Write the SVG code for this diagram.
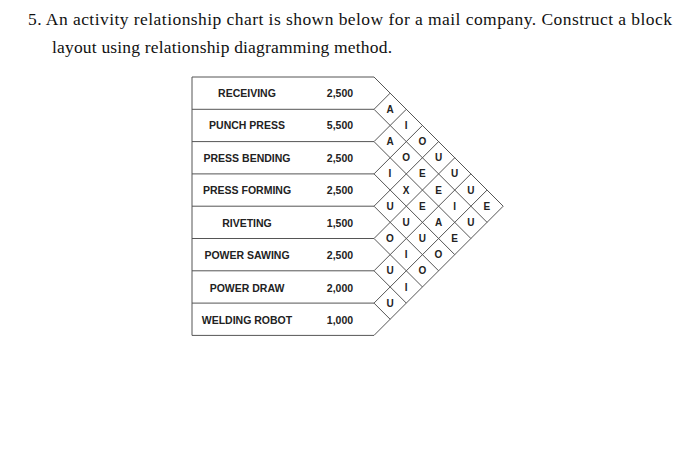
<svg xmlns="http://www.w3.org/2000/svg" width="700" height="458" viewBox="0 0 700 458">
<style>
.h{font-family:"Liberation Serif",serif;font-size:17.5px;fill:#111}
.l{font-family:"Liberation Sans",Arial,sans-serif;font-size:10.5px;font-weight:bold;fill:#222;text-anchor:middle;dominant-baseline:central}
.r{font-family:"Liberation Sans",Arial,sans-serif;font-size:10px;font-weight:bold;fill:#222;text-anchor:middle;dominant-baseline:central}
.g{stroke:#555;stroke-width:1;fill:none}
</style>
<rect width="700" height="458" fill="#fff"/>
<text class="h" x="28" y="25" textLength="644" lengthAdjust="spacing">5. An activity relationship chart is shown below for a mail company. Construct a block</text>
<text class="h" x="52" y="53" textLength="340" lengthAdjust="spacing">layout using relationship diagramming method.</text>
<g id="connectors" class="g">
<path d="M192,77V335.4M192,77H374M192,109.3H374M192,141.6H374M192,173.9H374M192,206.2H374M192,238.5H374M192,270.8H374M192,303.1H374M192,335.4H374"/>
<path d="M374,77L503.2,206.2M374,109.3L487.05,222.35M374,141.6L470.9,238.5M374,173.9L454.75,254.65M374,206.2L438.6,270.8M374,238.5L422.45,286.95M374,270.8L406.3,303.1M374,303.1L390.15,319.25"/>
<path d="M374,109.3L390.15,93.15M374,141.6L406.3,109.3M374,173.9L422.45,125.45M374,206.2L438.6,141.6M374,238.5L454.75,157.75M374,270.8L470.9,173.9M374,303.1L487.05,190.05M374,335.4L503.2,206.2"/>
</g>
<g id="rows">
<g id="n0"><text class="l" x="247" y="93">RECEIVING</text><text class="l" x="340" y="93">2,500</text></g>
<g id="n1"><text class="l" x="247" y="125">PUNCH PRESS</text><text class="l" x="340" y="125">5,500</text></g>
<g id="n2"><text class="l" x="247" y="157.5">PRESS BENDING</text><text class="l" x="340" y="157.5">2,500</text></g>
<g id="n3"><text class="l" x="247" y="190">PRESS FORMING</text><text class="l" x="340" y="190">2,500</text></g>
<g id="n4"><text class="l" x="247" y="222.5">RIVETING</text><text class="l" x="340" y="222.5">1,500</text></g>
<g id="n5"><text class="l" x="247" y="255">POWER SAWING</text><text class="l" x="340" y="255">2,500</text></g>
<g id="n6"><text class="l" x="247" y="287.5">POWER DRAW</text><text class="l" x="340" y="287.5">2,000</text></g>
<g id="n7"><text class="l" x="247" y="320">WELDING ROBOT</text><text class="l" x="340" y="320">1,000</text></g>
</g>
<g id="ratings">
<text class="r" x="390" y="109.3">A</text>
<text class="r" x="406.2" y="125.5">I</text>
<text class="r" x="422.3" y="141.6">O</text>
<text class="r" x="438.5" y="157.8">U</text>
<text class="r" x="454.6" y="173.9">U</text>
<text class="r" x="470.8" y="190.1">U</text>
<text class="r" x="486.9" y="206.2">E</text>
<text class="r" x="390" y="141.6">A</text>
<text class="r" x="406.2" y="157.8">O</text>
<text class="r" x="422.3" y="173.9">E</text>
<text class="r" x="438.5" y="190.1">E</text>
<text class="r" x="454.6" y="206.2">I</text>
<text class="r" x="470.8" y="222.4">U</text>
<text class="r" x="390" y="173.9">I</text>
<text class="r" x="406.2" y="190.1">X</text>
<text class="r" x="422.3" y="206.2">E</text>
<text class="r" x="438.5" y="222.4">A</text>
<text class="r" x="454.6" y="238.5">E</text>
<text class="r" x="390" y="206.2">U</text>
<text class="r" x="406.2" y="222.4">U</text>
<text class="r" x="422.3" y="238.5">U</text>
<text class="r" x="438.5" y="254.7">O</text>
<text class="r" x="390" y="238.5">O</text>
<text class="r" x="406.2" y="254.7">I</text>
<text class="r" x="422.3" y="270.8">O</text>
<text class="r" x="390" y="270.8">U</text>
<text class="r" x="406.2" y="287">I</text>
<text class="r" x="390" y="303.1">U</text>
</g>
</svg>
